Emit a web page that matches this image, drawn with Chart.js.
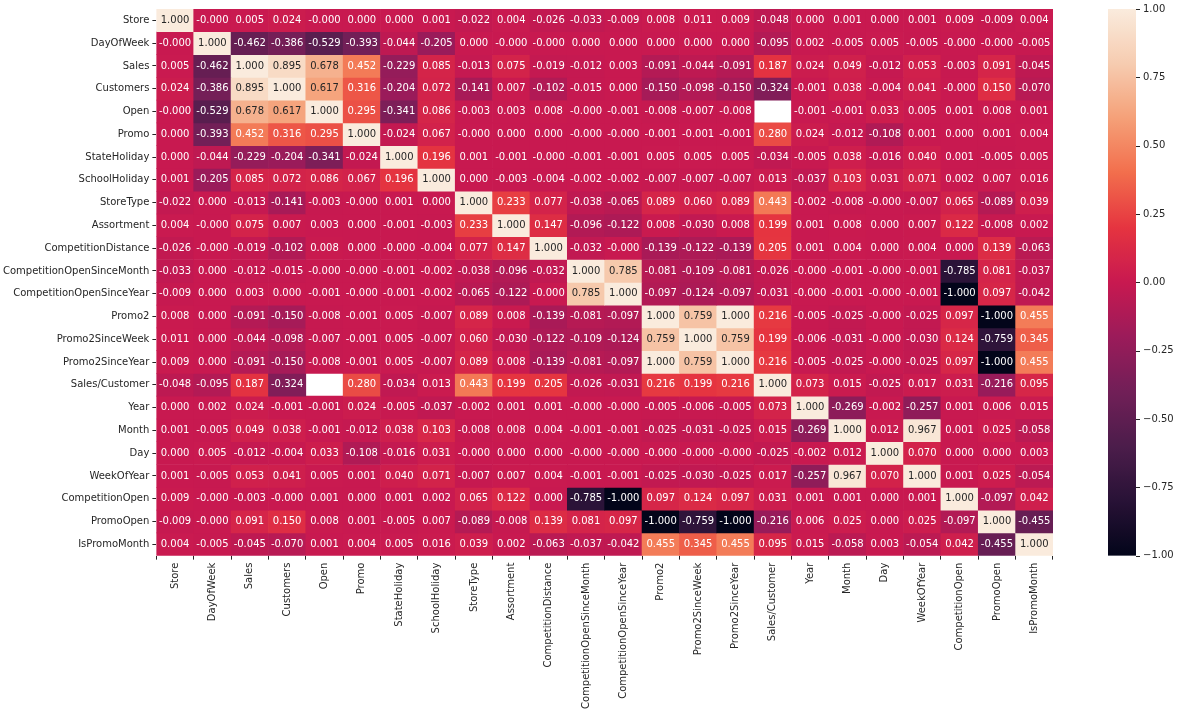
<!DOCTYPE html>
<html><head><meta charset="utf-8">
<script src="https://cdn.jsdelivr.net/npm/chart.js@4"></script>
<style>html,body{margin:0;background:#fff}#wrap{width:1180px;height:714px}</style>
</head><body><div id="wrap"><canvas id="c"></canvas></div>
<script>
const names = ["Store","DayOfWeek","Sales","Customers","Open","Promo","StateHoliday","SchoolHoliday","StoreType","Assortment","CompetitionDistance","CompetitionOpenSinceMonth","CompetitionOpenSinceYear","Promo2","Promo2SinceWeek","Promo2SinceYear","Sales/Customer","Year","Month","Day","WeekOfYear","CompetitionOpen","PromoOpen","IsPromoMonth"];
const rowStore = "1.000 -0.000 0.005 0.024 -0.000 0.000 0.000 0.001 -0.022 0.004 -0.026 -0.033 -0.009 0.008 0.011 0.009 -0.048 0.000 0.001 0.000 0.001 0.009 -0.009 0.004";
const rowDayOfWeek = "-0.000 1.000 -0.462 -0.386 -0.529 -0.393 -0.044 -0.205 0.000 -0.000 -0.000 0.000 0.000 0.000 0.000 0.000 -0.095 0.002 -0.005 0.005 -0.005 -0.000 -0.000 -0.005";
const rowSales = "0.005 -0.462 1.000 0.895 0.678 0.452 -0.229 0.085 -0.013 0.075 -0.019 -0.012 0.003 -0.091 -0.044 -0.091 0.187 0.024 0.049 -0.012 0.053 -0.003 0.091 -0.045";
const rowCustomers = "0.024 -0.386 0.895 1.000 0.617 0.316 -0.204 0.072 -0.141 0.007 -0.102 -0.015 0.000 -0.150 -0.098 -0.150 -0.324 -0.001 0.038 -0.004 0.041 -0.000 0.150 -0.070";
const rowOpen = "-0.000 -0.529 0.678 0.617 1.000 0.295 -0.341 0.086 -0.003 0.003 0.008 -0.000 -0.001 -0.008 -0.007 -0.008 NaN -0.001 -0.001 0.033 0.005 0.001 0.008 0.001";
const rowPromo = "0.000 -0.393 0.452 0.316 0.295 1.000 -0.024 0.067 -0.000 0.000 0.000 -0.000 -0.000 -0.001 -0.001 -0.001 0.280 0.024 -0.012 -0.108 0.001 0.000 0.001 0.004";
const rowStateHoliday = "0.000 -0.044 -0.229 -0.204 -0.341 -0.024 1.000 0.196 0.001 -0.001 -0.000 -0.001 -0.001 0.005 0.005 0.005 -0.034 -0.005 0.038 -0.016 0.040 0.001 -0.005 0.005";
const rowSchoolHoliday = "0.001 -0.205 0.085 0.072 0.086 0.067 0.196 1.000 0.000 -0.003 -0.004 -0.002 -0.002 -0.007 -0.007 -0.007 0.013 -0.037 0.103 0.031 0.071 0.002 0.007 0.016";
const rowStoreType = "-0.022 0.000 -0.013 -0.141 -0.003 -0.000 0.001 0.000 1.000 0.233 0.077 -0.038 -0.065 0.089 0.060 0.089 0.443 -0.002 -0.008 -0.000 -0.007 0.065 -0.089 0.039";
const rowAssortment = "0.004 -0.000 0.075 0.007 0.003 0.000 -0.001 -0.003 0.233 1.000 0.147 -0.096 -0.122 0.008 -0.030 0.008 0.199 0.001 0.008 0.000 0.007 0.122 -0.008 0.002";
const rowCompDist = "-0.026 -0.000 -0.019 -0.102 0.008 0.000 -0.000 -0.004 0.077 0.147 1.000 -0.032 -0.000 -0.139 -0.122 -0.139 0.205 0.001 0.004 0.000 0.004 0.000 0.139 -0.063";
const rowCompOSM = "-0.033 0.000 -0.012 -0.015 -0.000 -0.000 -0.001 -0.002 -0.038 -0.096 -0.032 1.000 0.785 -0.081 -0.109 -0.081 -0.026 -0.000 -0.001 -0.000 -0.001 -0.785 0.081 -0.037";
const rowCompOSY = "-0.009 0.000 0.003 0.000 -0.001 -0.000 -0.001 -0.002 -0.065 -0.122 -0.000 0.785 1.000 -0.097 -0.124 -0.097 -0.031 -0.000 -0.001 -0.000 -0.001 -1.000 0.097 -0.042";
const rowPromo2 = "0.008 0.000 -0.091 -0.150 -0.008 -0.001 0.005 -0.007 0.089 0.008 -0.139 -0.081 -0.097 1.000 0.759 1.000 0.216 -0.005 -0.025 -0.000 -0.025 0.097 -1.000 0.455";
const rowP2SW = "0.011 0.000 -0.044 -0.098 -0.007 -0.001 0.005 -0.007 0.060 -0.030 -0.122 -0.109 -0.124 0.759 1.000 0.759 0.199 -0.006 -0.031 -0.000 -0.030 0.124 -0.759 0.345";
const rowP2SY = "0.009 0.000 -0.091 -0.150 -0.008 -0.001 0.005 -0.007 0.089 0.008 -0.139 -0.081 -0.097 1.000 0.759 1.000 0.216 -0.005 -0.025 -0.000 -0.025 0.097 -1.000 0.455";
const rowSalesCust = "-0.048 -0.095 0.187 -0.324 NaN 0.280 -0.034 0.013 0.443 0.199 0.205 -0.026 -0.031 0.216 0.199 0.216 1.000 0.073 0.015 -0.025 0.017 0.031 -0.216 0.095";
const rowYear = "0.000 0.002 0.024 -0.001 -0.001 0.024 -0.005 -0.037 -0.002 0.001 0.001 -0.000 -0.000 -0.005 -0.006 -0.005 0.073 1.000 -0.269 -0.002 -0.257 0.001 0.006 0.015";
const rowMonth = "0.001 -0.005 0.049 0.038 -0.001 -0.012 0.038 0.103 -0.008 0.008 0.004 -0.001 -0.001 -0.025 -0.031 -0.025 0.015 -0.269 1.000 0.012 0.967 0.001 0.025 -0.058";
const rowDay = "0.000 0.005 -0.012 -0.004 0.033 -0.108 -0.016 0.031 -0.000 0.000 0.000 -0.000 -0.000 -0.000 -0.000 -0.000 -0.025 -0.002 0.012 1.000 0.070 0.000 0.000 0.003";
const rowWeekOfYear = "0.001 -0.005 0.053 0.041 0.005 0.001 0.040 0.071 -0.007 0.007 0.004 -0.001 -0.001 -0.025 -0.030 -0.025 0.017 -0.257 0.967 0.070 1.000 0.001 0.025 -0.054";
const rowCompOpen = "0.009 -0.000 -0.003 -0.000 0.001 0.000 0.001 0.002 0.065 0.122 0.000 -0.785 -1.000 0.097 0.124 0.097 0.031 0.001 0.001 0.000 0.001 1.000 -0.097 0.042";
const rowPromoOpen = "-0.009 -0.000 0.091 0.150 0.008 0.001 -0.005 0.007 -0.089 -0.008 0.139 0.081 0.097 -1.000 -0.759 -1.000 -0.216 0.006 0.025 0.000 0.025 -0.097 1.000 -0.455";
const rowIsPromoMonth = "0.004 -0.005 -0.045 -0.070 0.001 0.004 0.005 0.016 0.039 0.002 -0.063 -0.037 -0.042 0.455 0.345 0.455 0.095 0.015 -0.058 0.003 -0.054 0.042 -0.455 1.000";
const rows = [rowStore,rowDayOfWeek,rowSales,rowCustomers,rowOpen,rowPromo,rowStateHoliday,rowSchoolHoliday,rowStoreType,rowAssortment,rowCompDist,rowCompOSM,rowCompOSY,rowPromo2,rowP2SW,rowP2SY,rowSalesCust,rowYear,rowMonth,rowDay,rowWeekOfYear,rowCompOpen,rowPromoOpen,rowIsPromoMonth].map(r=>r.split(" "));
const cbTicks = [1,0.75,0.5,0.25,0,-0.25,-0.5,-0.75,-1];

const stops=[[0,[3,5,26]],[0.1,[40,18,54]],[0.2,[76,29,75]],[0.3,[113,31,87]],[0.4,[155,27,90]],[0.5,[200,25,80]],[0.6,[229,52,64]],[0.7,[242,110,76]],[0.8,[245,160,120]],[0.9,[246,204,176]],[1,[250,235,221]]];
function cmap(v){const t=Math.max(0,Math.min(1,(v+1)/2));for(let i=1;i<stops.length;i++){if(t<=stops[i][0]){const a=stops[i-1],b=stops[i];const f=(t-a[0])/(b[0]-a[0]);return a[1].map((c,k)=>Math.round(c+(b[1][k]-c)*f));}}return stops[stops.length-1][1];}
function rgb(c){return `rgb(${c[0]},${c[1]},${c[2]})`;}
function lum(c){const l=c.map(x=>{x/=255;return x<=0.03928?x/12.92:Math.pow((x+0.055)/1.055,2.4)});return 0.2126*l[0]+0.7152*l[1]+0.0722*l[2];}

const datasets = rows.map((r,j)=>({
  label:names[j], data:names.map(()=>1),
  backgroundColor:r.map(s=>isNaN(parseFloat(s))?'rgba(0,0,0,0)':rgb(cmap(parseFloat(s)))),
  borderWidth:0, barPercentage:1, categoryPercentage:1, stack:'s'
}));

const FONT="'DejaVu Sans'";
const textPlugin={id:'txt',afterDatasetsDraw(chart){const ctx=chart.ctx;ctx.save();ctx.font=`10px ${FONT}`;ctx.textAlign='center';ctx.textBaseline='middle';
  chart.data.datasets.forEach((ds,j)=>{const meta=chart.getDatasetMeta(j);meta.data.forEach((el,i)=>{const s=rows[j][i];const v=parseFloat(s);if(isNaN(v))return;const p=el.getCenterPoint();ctx.fillStyle=lum(cmap(v))>0.408?'#262626':'#ffffff';ctx.fillText(s,p.x,p.y);});});ctx.restore();},
  afterDraw(chart){const ctx=chart.ctx,a=chart.chartArea;const x0=a.right+55,w=28;ctx.save();
    const g=ctx.createLinearGradient(0,a.top,0,a.bottom);for(let k=0;k<=50;k++){g.addColorStop(k/50,rgb(cmap(1-2*k/50)));}
    ctx.fillStyle=g;ctx.fillRect(x0,a.top,w,a.bottom-a.top);
    ctx.font=`10px ${FONT}`;ctx.fillStyle='#262626';ctx.textAlign='left';ctx.textBaseline='middle';ctx.strokeStyle='#262626';ctx.lineWidth=1;
    cbTicks.forEach(v=>{const y=a.top+(1-v)/2*(a.bottom-a.top);ctx.beginPath();ctx.moveTo(x0+w,Math.round(y)+0.5);ctx.lineTo(x0+w+4,Math.round(y)+0.5);ctx.stroke();ctx.fillText((v<0?'\u2212':'')+Math.abs(v).toFixed(2),x0+w+7,y);});
    ctx.restore();}};

new Chart(document.getElementById('c'),{type:'bar',data:{labels:names,datasets},
 options:{responsive:true,maintainAspectRatio:false,animation:false,
  layout:{padding:{top:8,right:127,left:0,bottom:2}},
  plugins:{legend:{display:false},tooltip:{enabled:false}},
  scales:{
   x:{stacked:true,offset:true,grid:{display:true,drawOnChartArea:false,drawTicks:true,tickLength:4,color:'#262626'},border:{display:false},
      ticks:{minRotation:90,maxRotation:90,autoSkip:false,color:'#262626',font:{family:FONT,size:10}}},
   y:{stacked:true,reverse:true,min:0,max:24,grid:{display:true,drawOnChartArea:false,drawTicks:true,tickLength:4,color:'#262626'},border:{display:false},
      afterBuildTicks(s){s.ticks=names.map((_,i)=>({value:i+0.5}));},
      ticks:{autoSkip:false,color:'#262626',font:{family:FONT,size:10},callback:(v,i)=>names[i]}}
  }},plugins:[textPlugin]});
</script></body></html>
